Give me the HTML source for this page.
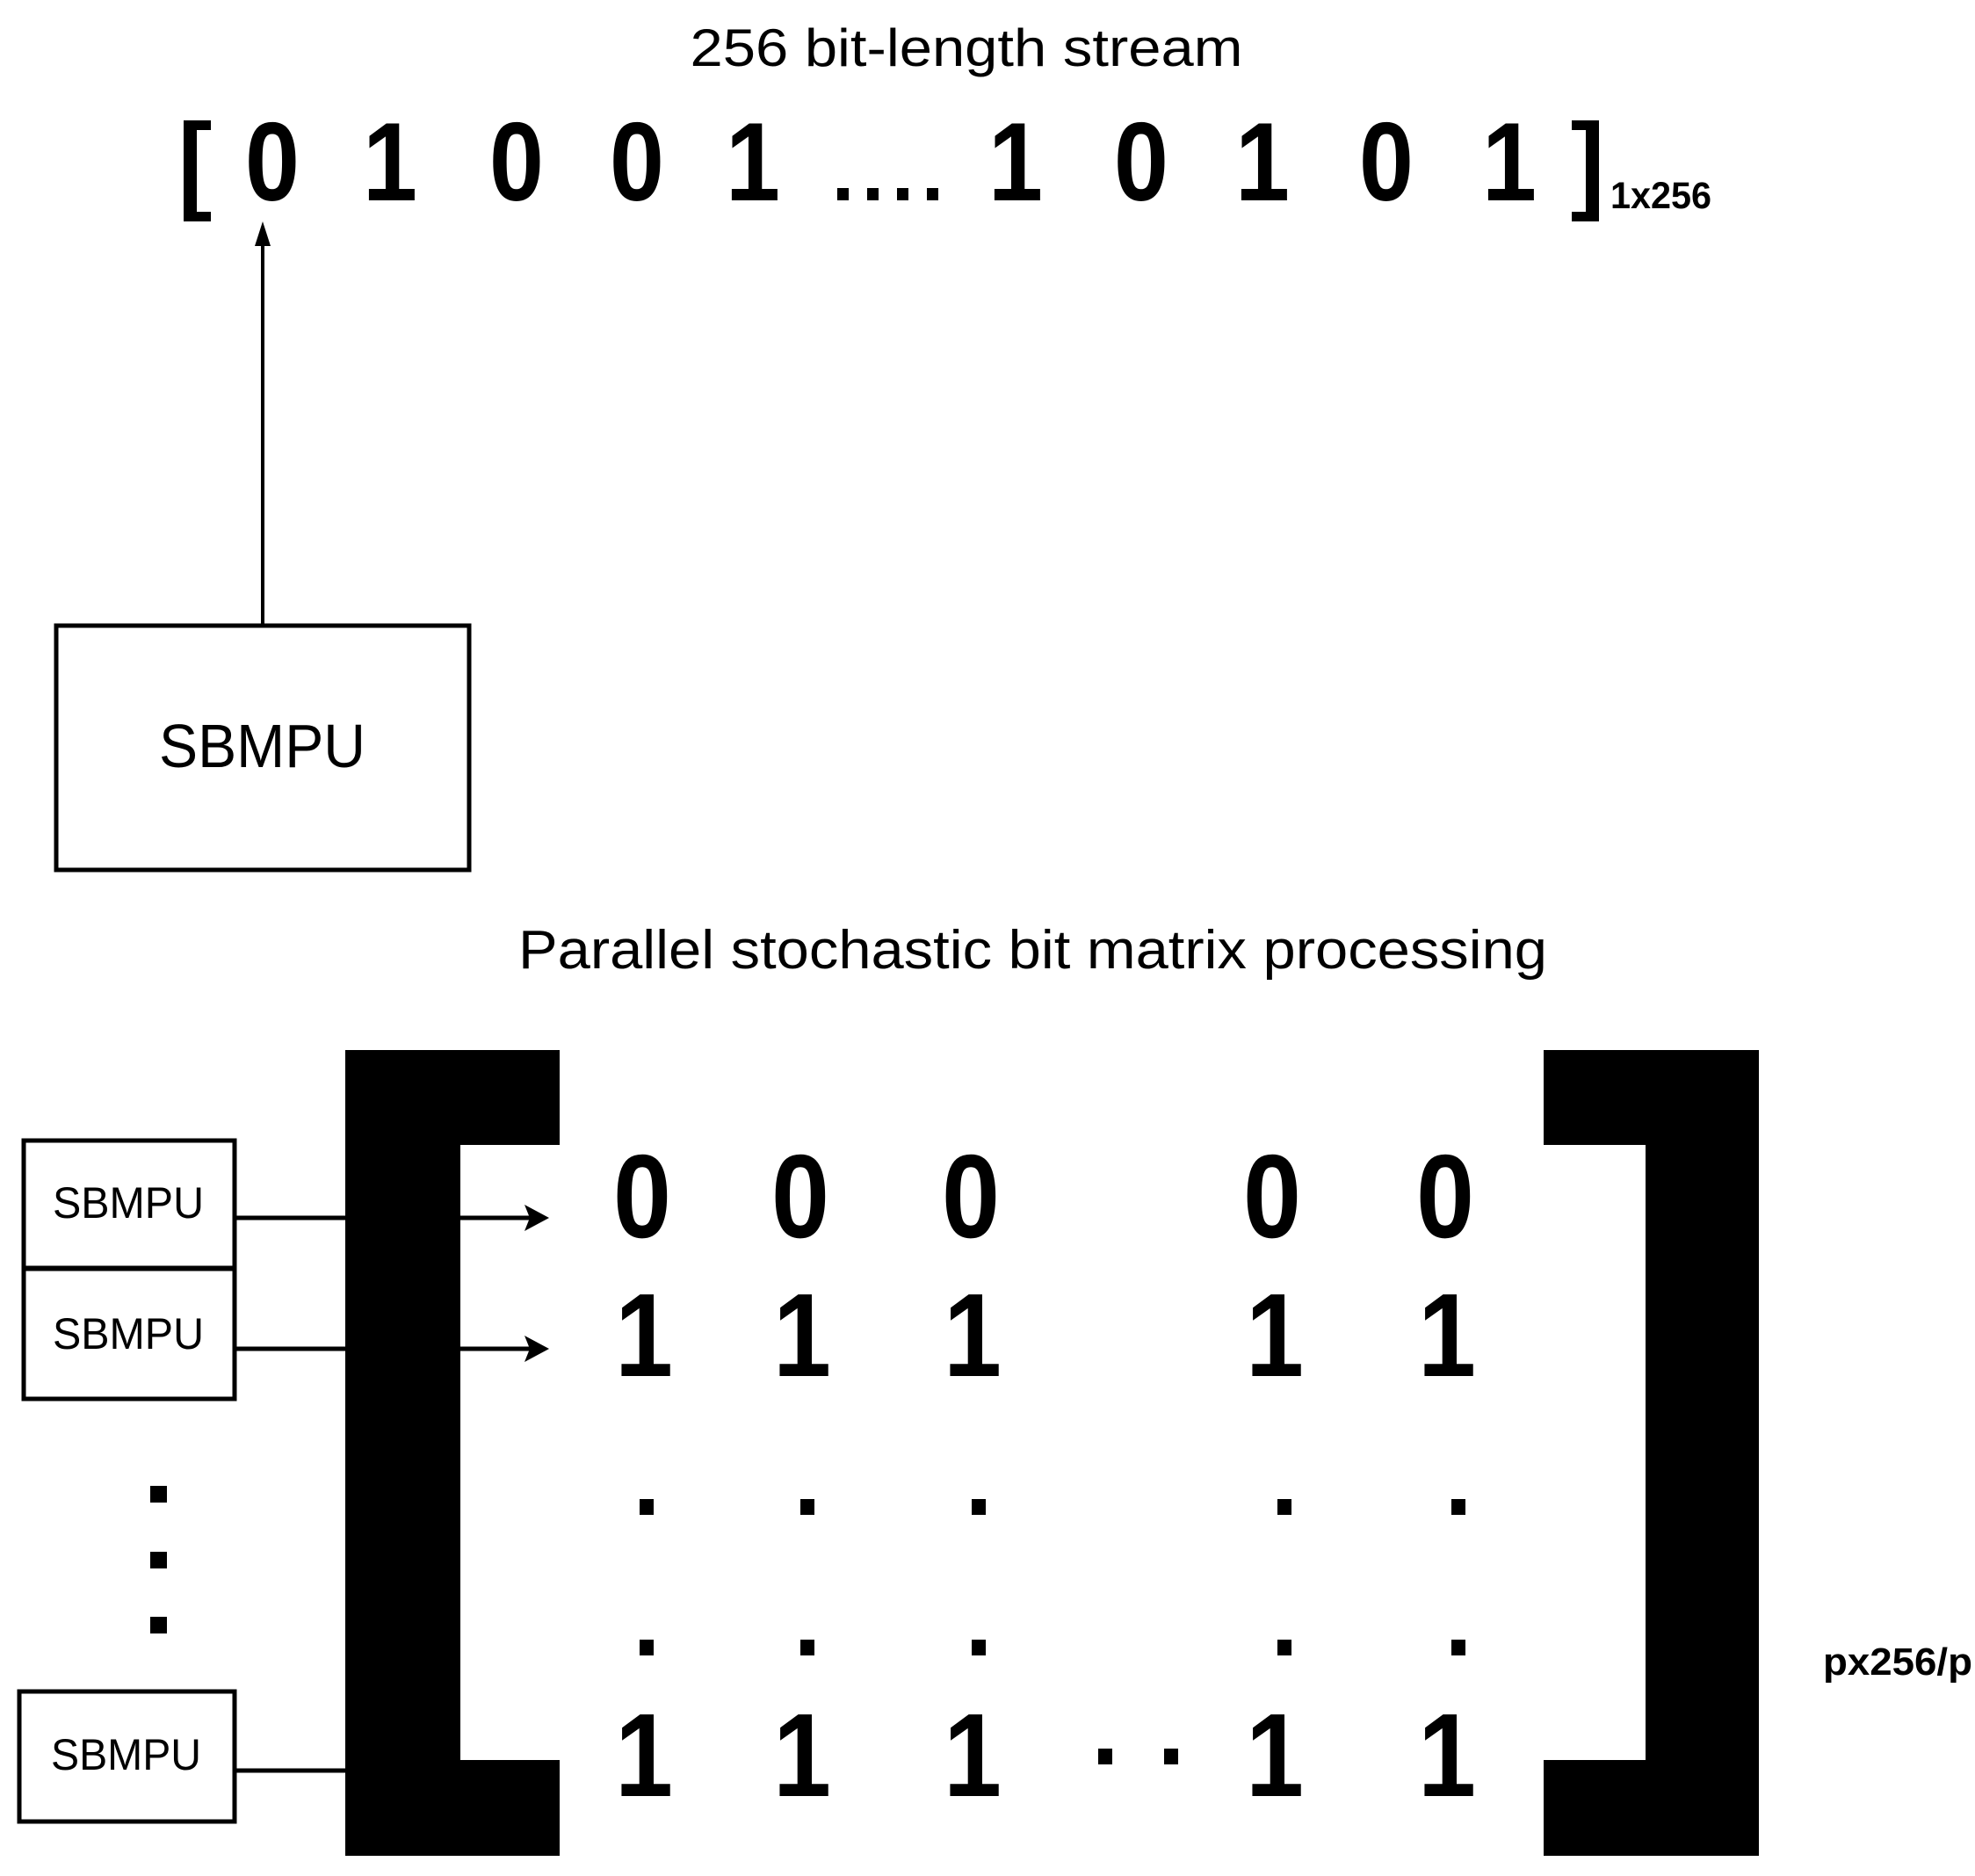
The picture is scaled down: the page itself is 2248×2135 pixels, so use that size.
<!DOCTYPE html>
<html><head><meta charset="utf-8"><style>html,body{margin:0;padding:0;background:#fff}svg{display:block}</style></head>
<body>
<svg width="2248" height="2135" viewBox="0 0 2248 2135" xmlns="http://www.w3.org/2000/svg" font-family="'Liberation Sans', Arial, sans-serif">
<rect width="2248" height="2135" fill="#fff"/>
<text x="1100" y="75" font-size="60" text-anchor="middle" textLength="629" lengthAdjust="spacingAndGlyphs">256 bit-length stream</text>
<path d="M209 137 H240 V148 H224 V241 H240 V252 H209 Z" fill="#000"/>
<path d="M1820 137 H1789 V148 H1805 V241 H1789 V252 H1820 Z" fill="#000"/>
<g font-size="127" font-weight="bold" text-anchor="middle">
<text transform="translate(310 228) scale(0.88 1)">0</text><text transform="translate(444 228) scale(0.88 1)">1</text><text transform="translate(588 228) scale(0.88 1)">0</text><text transform="translate(725 228) scale(0.88 1)">0</text><text transform="translate(857 228) scale(0.88 1)">1</text>
<text transform="translate(1156 228) scale(0.88 1)">1</text><text transform="translate(1299 228) scale(0.88 1)">0</text><text transform="translate(1437 228) scale(0.88 1)">1</text><text transform="translate(1578 228) scale(0.88 1)">0</text><text transform="translate(1718 228) scale(0.88 1)">1</text>
</g>
<g fill="#000"><rect x="953" y="214" width="13" height="14"/><rect x="987" y="214" width="13" height="14"/><rect x="1021" y="214" width="13" height="14"/><rect x="1055" y="214" width="13" height="14"/></g>
<text x="1833" y="237" font-size="43" font-weight="bold" textLength="115" lengthAdjust="spacingAndGlyphs">1x256</text>
<line x1="299" y1="710" x2="299" y2="275" stroke="#000" stroke-width="4"/>
<path d="M299 252 L290 280 L308 280 Z" fill="#000"/>
<rect x="64" y="712" width="470" height="278" fill="none" stroke="#000" stroke-width="5"/>
<text x="181" y="873" font-size="70" textLength="235" lengthAdjust="spacingAndGlyphs">SBMPU</text>
<text x="590" y="1102" font-size="62" textLength="1171" lengthAdjust="spacingAndGlyphs">Parallel stochastic bit matrix processing</text>
<path d="M393 1195 H637 V1303 H524 V2003 H637 V2112 H393 Z" fill="#000"/>
<path d="M2002 1195 H1757 V1303 H1873 V2003 H1757 V2112 H2002 Z" fill="#000"/>
<rect x="27" y="1298" width="240" height="145" fill="none" stroke="#000" stroke-width="5"/>
<rect x="27" y="1444" width="240" height="148" fill="none" stroke="#000" stroke-width="5"/>
<rect x="22" y="1925" width="245" height="148" fill="none" stroke="#000" stroke-width="5"/>
<g font-size="50">
<text x="60" y="1386" textLength="172" lengthAdjust="spacingAndGlyphs">SBMPU</text>
<text x="60" y="1535" textLength="172" lengthAdjust="spacingAndGlyphs">SBMPU</text>
<text x="58" y="2014" textLength="171" lengthAdjust="spacingAndGlyphs">SBMPU</text>
</g>
<g stroke="#000" stroke-width="5">
<line x1="268" y1="1386" x2="394" y2="1386"/><line x1="523" y1="1386" x2="605" y2="1386"/>
<line x1="268" y1="1535" x2="394" y2="1535"/><line x1="523" y1="1535" x2="605" y2="1535"/>
<line x1="268" y1="2015" x2="394" y2="2015"/>
</g>
<path d="M625 1386 L597 1371 L603 1386 L597 1401 Z" fill="#000"/>
<path d="M625 1535 L597 1520 L603 1535 L597 1550 Z" fill="#000"/>
<g fill="#000"><rect x="171" y="1691" width="19" height="19"/><rect x="171" y="1766" width="19" height="19"/><rect x="171" y="1840" width="19" height="19"/></g>
<g font-size="135" font-weight="bold" text-anchor="middle">
<text transform="translate(731 1408) scale(0.88 1)">0</text><text transform="translate(911 1408) scale(0.88 1)">0</text><text transform="translate(1105 1408) scale(0.88 1)">0</text><text transform="translate(1448 1408) scale(0.88 1)">0</text><text transform="translate(1645 1408) scale(0.88 1)">0</text>
<text transform="translate(733 1566) scale(0.88 1)">1</text><text transform="translate(913 1566) scale(0.88 1)">1</text><text transform="translate(1107 1566) scale(0.88 1)">1</text><text transform="translate(1451 1566) scale(0.88 1)">1</text><text transform="translate(1647 1566) scale(0.88 1)">1</text>
<text transform="translate(733 2044) scale(0.88 1)">1</text><text transform="translate(913 2044) scale(0.88 1)">1</text><text transform="translate(1107 2044) scale(0.88 1)">1</text><text transform="translate(1451 2044) scale(0.88 1)">1</text><text transform="translate(1647 2044) scale(0.88 1)">1</text>
</g>
<g fill="#000">
<rect x="728" y="1706" width="16" height="18"/><rect x="911" y="1706" width="16" height="18"/><rect x="1106" y="1706" width="16" height="18"/><rect x="1454" y="1706" width="16" height="18"/><rect x="1652" y="1706" width="16" height="18"/>
<rect x="728" y="1866" width="16" height="18"/><rect x="911" y="1866" width="16" height="18"/><rect x="1106" y="1866" width="16" height="18"/><rect x="1454" y="1866" width="16" height="18"/><rect x="1652" y="1866" width="16" height="18"/>
<rect x="1250" y="1990" width="16" height="18"/><rect x="1325" y="1990" width="16" height="18"/>
</g>
<text x="2075" y="1906" font-size="44" font-weight="bold" textLength="170" lengthAdjust="spacingAndGlyphs">px256/p</text>
</svg>
</body></html>
